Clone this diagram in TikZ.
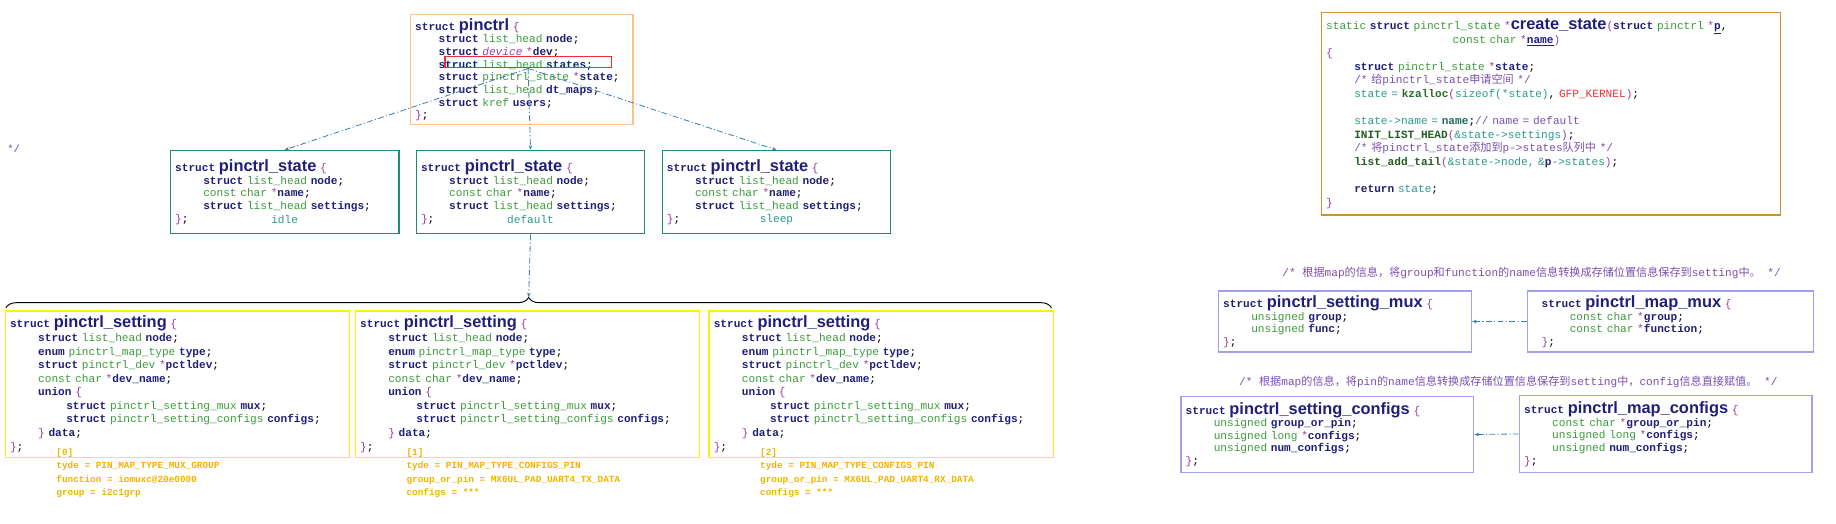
\documentclass[tikz,border=0pt]{standalone}
\usepackage{fontspec}
\usetikzlibrary{decorations.pathreplacing,arrows.meta}
\newfontfamily\cmono{Liberation Mono}
\newfontfamily\csans{Liberation Sans}
\newfontfamily\cjk{Noto Sans CJK SC}
\definecolor{cnavy}{HTML}{1F1F7A}
\definecolor{cgreen}{HTML}{3C9A3C}
\definecolor{cpurp}{HTML}{9A3FA0}
\definecolor{cteal}{HTML}{2A9A8A}
\definecolor{cann}{HTML}{F0B400}
\definecolor{ccom}{HTML}{7A4FB0}
\definecolor{cred}{HTML}{F03030}
\definecolor{corange}{HTML}{F9C38A}
\definecolor{cstate}{HTML}{1E8C74}
\definecolor{cyel}{HTML}{FFF200}
\definecolor{clav}{HTML}{A0A0EE}
\definecolor{cgold}{HTML}{C9962B}
\definecolor{cconn}{HTML}{3A7EB5}
\newcommand{\kw}[1]{\textbf{\color{cnavy}#1}}
\newcommand{\ty}[1]{{\color{cgreen}#1}}
\newcommand{\pu}[1]{{\color{cpurp}#1}}
\newcommand{\te}[1]{{\color{cteal}#1}}
\newcommand{\cm}[1]{{\color{ccom}#1}}
\newcommand{\bigname}[1]{{\csans\fontsize{14}{12}\selectfont\bfseries\color{cnavy}#1}}
\newcommand{\ind}{\hspace*{24pt}}
\newcommand{\indd}{\hspace*{48pt}}
\begin{document}
\begin{tikzpicture}[x=1pt,y=-1pt,
  code/.style={font=\cmono\fontsize{9.5}{10.8}\selectfont, align=left, anchor=north west, inner xsep=4pt, inner ysep=3pt, line width=1.2pt},
  ann/.style={font=\cmono\bfseries\fontsize{8}{11.3}\selectfont, text=cann, align=left, anchor=north west, inner sep=0pt},
  lbl/.style={font=\cmono\fontsize{9.5}{10}\selectfont, text=cteal},
  conn/.style={cconn, dash pattern=on 5pt off 2pt on 1pt off 2pt, line width=0.7pt, -{Stealth[length=4pt,width=3pt]}},
  cmt/.style={font=\cmono\fontsize{9.5}{10}\selectfont, text=ccom, anchor=west, inner sep=0pt}]
\useasboundingbox (0,0) rectangle (1568,447);
\fill[white] (0,0) rectangle (1568,447);
% pinctrl
\node[code, draw=corange, minimum width=190pt, minimum height=88pt, text width=182pt] (pc) at (350,12) {%
\kw{struct} \bigname{pinctrl} \pu{\{}\\
\hspace*{20pt}\kw{struct} \ty{list\_head} \kw{node};\\
\hspace*{20pt}\kw{struct} \textit{\color{cpurp}device} \pu{*}\kw{dev};\\
\hspace*{20pt}\kw{struct} \ty{list\_head} \kw{states};\\
\hspace*{20pt}\kw{struct} \ty{pinctrl\_state} \pu{*}\kw{state};\\
\hspace*{20pt}\kw{struct} \ty{list\_head} \kw{dt\_maps};\\
\hspace*{20pt}\kw{struct} \ty{kref} \kw{users};\\
\pu{\}};};
\node[draw=cred, line width=1pt, minimum width=142pt, minimum height=10pt, inner sep=0pt] (states) at (451,53) {};
\node[anchor=west, inner sep=0pt, font=\cmono\fontsize{9}{10}\selectfont, text=ccom] (endc) at (6,127) {*/};
% states
\foreach \n/\x/\l in {st1/145/idle, st2/355/default, st3/565/sleep}{
\node[code, draw=cstate, minimum width=195pt, minimum height=71pt, text width=187pt] (\n) at (\x,128) {%
\kw{struct} \bigname{pinctrl\_state} \pu{\{}\\
\ind\kw{struct} \ty{list\_head} \kw{node};\\
\ind\ty{const char} \pu{*}\kw{name};\\
\ind\kw{struct} \ty{list\_head} \kw{settings};\\
\pu{\}};};
\node[lbl] (\n l) at ([yshift=13pt]\n.south) {\l};
}
\draw[conn] (states.south) -- (st1.north);
\draw[conn] (states.south) -- (st2.north);
\draw[conn] (states.south) -- (st3.north);
% brace
\coordinate (bl) at (5,263);
\coordinate (br) at (898,263);
\coordinate (bt) at (451.5,254);
\draw[line width=0.8pt, decorate, decoration={brace, amplitude=9pt}] (bl) -- (br);
\draw[conn] (st2.south) -- (bt);
% settings
\foreach \n/\x/\i/\a/\b/\c/\d in {
 se1/4/0/PIN\_MAP\_TYPE\_MUX\_GROUP/function = iomuxc@20e0000/group = i2c1grp/,
 se2/303/1/PIN\_MAP\_TYPE\_CONFIGS\_PIN/group\_or\_pin = MX6UL\_PAD\_UART4\_TX\_DATA/configs = ***/,
 se3/605/2/PIN\_MAP\_TYPE\_CONFIGS\_PIN/group\_or\_pin = MX6UL\_PAD\_UART4\_RX\_DATA/configs = ***/}{
\node[code, draw=cyel, minimum width=294pt, minimum height=125pt, text width=286pt, font=\cmono\fontsize{9.5}{11.6}\selectfont] (\n) at (\x,265) {%
\kw{struct} \bigname{pinctrl\_setting} \pu{\{}\\
\ind\kw{struct} \ty{list\_head} \kw{node};\\
\ind\kw{enum} \ty{pinctrl\_map\_type} \kw{type};\\
\ind\kw{struct} \ty{pinctrl\_dev} \pu{*}\kw{pctldev};\\
\ind\ty{const char} \pu{*}\kw{dev\_name};\\
\ind\kw{union} \pu{\{}\\
\indd\kw{struct} \ty{pinctrl\_setting\_mux} \kw{mux};\\
\indd\kw{struct} \ty{pinctrl\_setting\_configs} \kw{configs};\\
\ind\pu{\}} \kw{data};\\
\pu{\}};};
\node[ann] (\n a) at ([xshift=44pt,yshift=8pt]\n.south west) {[\i]\\tyde = \a\\\b\\\c};
}
% create_state
\node[code, draw=cgold, minimum width=392pt, minimum height=173pt, text width=384pt, inner xsep=3pt, font=\cmono\fontsize{9.5}{11.6}\selectfont] (cs) at (1128,10) {%
\ty{static} \kw{struct} \ty{pinctrl\_state} \pu{*}\bigname{create\_state}\pu{(}\kw{struct} \ty{pinctrl} \pu{*}\kw{\underline{p}},\\
\hspace*{108pt}\ty{const char} \pu{*}\kw{\underline{name}}\pu{)}\\
\pu{\{}\\
\ind\kw{struct} \ty{pinctrl\_state} \pu{*}\kw{state};\\
\ind\cm{/* {\cjk 给}pinctrl\_state{\cjk 申请空间} */}\\
\ind\te{state =} \textbf{\color{cgreen!70!black}kzalloc}\pu{(}\te{sizeof(*state)}, {\color{cred}GFP\_KERNEL}\pu{)};\\[11.6pt]
\ind\te{state->name =} \textbf{\color{cteal!70!black}name};\cm{// name = default}\\
\ind\textbf{\color{cgreen!60!black}INIT\_LIST\_HEAD}\pu{(}\te{\&state->settings}\pu{)};\\
\ind\cm{/* {\cjk 将}pinctrl\_state{\cjk 添加到}p->states{\cjk 队列中} */}\\
\ind\textbf{\color{cgreen!60!black}list\_add\_tail}\pu{(}\te{\&state->node, \&}\kw{p}\te{->states}\pu{)};\\[11.6pt]
\ind\kw{return} \te{state};\\
\pu{\}}};
% right structs
\node[cmt] (c1) at (1095,233) {/* {\cjk 根据}map{\cjk 的信息，将}group{\cjk 和}function{\cjk 的}name{\cjk 信息转换成存储位置信息保存到}setting{\cjk 中。} */};
\node[code, draw=clav, minimum width=216pt, minimum height=52pt, text width=208pt] (smux) at (1040,248) {%
\kw{struct} \bigname{pinctrl\_setting\_mux} \pu{\{}\\
\ind\ty{unsigned} \kw{group};\\
\ind\ty{unsigned} \kw{func};\\
\pu{\}};};
\node[code, draw=clav, minimum width=244pt, minimum height=52pt, text width=236pt] (mmux) at (1304,248) {%
\hspace*{8pt}\kw{struct} \bigname{pinctrl\_map\_mux} \pu{\{}\\
\hspace*{32pt}\ty{const char} \pu{*}\kw{group};\\
\hspace*{32pt}\ty{const char} \pu{*}\kw{function};\\
\hspace*{8pt}\pu{\}};};
\draw[conn] (mmux.west) -- (smux.east);
\node[cmt] (c2) at (1058,326) {/* {\cjk 根据}map{\cjk 的信息，将}pin{\cjk 的}name{\cjk 信息转换成存储位置信息保存到}setting{\cjk 中，}config{\cjk 信息直接赋值。} */};
\node[code, draw=clav, minimum width=250pt, minimum height=65pt, text width=242pt] (scfg) at (1008,338) {%
\kw{struct} \bigname{pinctrl\_setting\_configs} \pu{\{}\\
\ind\ty{unsigned} \kw{group\_or\_pin};\\
\ind\ty{unsigned long} \pu{*}\kw{configs};\\
\ind\ty{unsigned} \kw{num\_configs};\\
\pu{\}};};
\node[code, draw=clav, minimum width=250pt, minimum height=66pt, text width=242pt] (mcfg) at (1297,337) {%
\kw{struct} \bigname{pinctrl\_map\_configs} \pu{\{}\\
\ind\ty{const char} \pu{*}\kw{group\_or\_pin};\\
\ind\ty{unsigned long} \pu{*}\kw{configs};\\
\ind\ty{unsigned} \kw{num\_configs};\\
\pu{\}};};
\draw[conn] (mcfg.west) -- (scfg.east);
\end{tikzpicture}
\end{document}
